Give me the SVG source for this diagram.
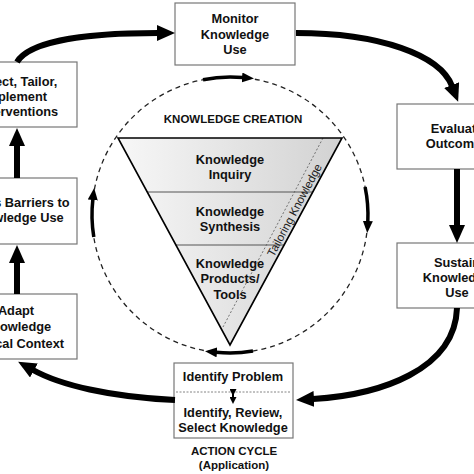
<svg xmlns="http://www.w3.org/2000/svg" width="474" height="474" viewBox="0 0 474 474">
<defs>
<style>
.box{fill:#fff;stroke:#777;stroke-width:1.2}
.t{font-family:"Liberation Sans",Arial,sans-serif;font-weight:bold;font-size:12.8px;fill:#111;text-anchor:middle}
.s{font-size:11.5px}
.big{fill:none;stroke:#000;stroke-width:6}
.cyc{fill:none;stroke:#000;stroke-width:3.5}
</style>
<marker id="ah" viewBox="0 0 18 16" refX="1" refY="8" markerWidth="18" markerHeight="16" markerUnits="userSpaceOnUse" orient="auto">
<path d="M0,0 L18,8 L0,16 z" fill="#000"/>
</marker>
<marker id="sh" viewBox="0 0 12 10" refX="1" refY="5" markerWidth="12" markerHeight="10" markerUnits="userSpaceOnUse" orient="auto">
<path d="M0,0 L12,5 L0,10 z" fill="#000"/>
</marker>
<marker id="tiny" viewBox="0 0 7 7" refX="1" refY="3.5" markerWidth="7" markerHeight="7" markerUnits="userSpaceOnUse" orient="auto">
<path d="M0,0 L7,3.5 L0,7 z" fill="#000"/>
</marker>
<linearGradient id="tg" x1="0" y1="0" x2="1" y2="0">
<stop offset="0" stop-color="#f7f7f7"/>
<stop offset="1" stop-color="#d2d2d2"/>
</linearGradient>
</defs>

<g id="creation">
<circle cx="230" cy="215" r="138" fill="none" stroke="#222" stroke-width="1.3" stroke-dasharray="5 4"/>
<path d="M118,138 L342,138 L230,345 Z" fill="url(#tg)" stroke="none"/>
<line x1="147.2" y1="192" x2="312.8" y2="192" stroke="#555" stroke-width="1"/>
<line x1="175.9" y1="245" x2="284.1" y2="245" stroke="#555" stroke-width="1"/>
<line x1="323" y1="138" x2="223" y2="327" stroke="#555" stroke-width="0.8" stroke-dasharray="2 2"/>
<path d="M118,138 L342,138 L230,345 Z" fill="none" stroke="#000" stroke-width="1.6" stroke-linejoin="miter"/>
<text class="t" x="233" y="123" style="font-size:11.5px">KNOWLEDGE CREATION</text>
<text class="t" x="230" y="164">Knowledge</text>
<text class="t" x="230" y="179">Inquiry</text>
<text class="t" x="230" y="216">Knowledge</text>
<text class="t" x="230" y="231">Synthesis</text>
<text class="t" x="230" y="268">Knowledge</text>
<text class="t" x="230" y="283">Products/</text>
<text class="t" x="230" y="299">Tools</text>
<text x="0" y="0" transform="translate(298,212) rotate(-62)" style="font-family:'Liberation Sans',Arial,sans-serif;font-size:11.5px;fill:#222;text-anchor:middle">Tailoring Knowledge</text>
</g>

<g id="monitor">
<rect class="box" x="175" y="3" width="120" height="62"/>
<text class="t" x="235" y="23">Monitor</text>
<text class="t" x="235" y="38.5">Knowledge</text>
<text class="t" x="235" y="54">Use</text>
</g>

<g id="evaluate">
<rect class="box" x="397" y="104" width="120" height="65"/>
<text class="t" x="457" y="133">Evaluate</text>
<text class="t" x="457" y="147.5">Outcomes</text>
</g>

<g id="sustain">
<rect class="box" x="397" y="243" width="120" height="65"/>
<text class="t" x="457" y="267">Sustain</text>
<text class="t" x="457" y="282">Knowledge</text>
<text class="t" x="457" y="296.5">Use</text>
</g>

<g id="identify">
<rect class="box" x="174" y="363" width="119" height="75"/>
<text class="t" x="233" y="381">Identify  Problem</text>
<line x1="176" y1="392" x2="291" y2="392" stroke="#666" stroke-width="0.8" stroke-dasharray="2 1.5"/>
<text class="t" x="233" y="417">Identify, Review,</text>
<text class="t" x="233" y="432">Select Knowledge</text>
<text class="t s" x="234" y="455">ACTION CYCLE</text>
<text class="t s" x="234" y="469">(Application)</text>
</g>

<g id="adapt">
<rect class="box" x="-43" y="294" width="120" height="65"/>
<text class="t" x="16" y="315">Adapt</text>
<text class="t" x="17" y="331">Knowledge</text>
<text class="t" x="14" y="348">to Local Context</text>
</g>

<g id="barriers">
<rect class="box" x="-43" y="178" width="120" height="66"/>
<text class="t" x="13" y="207">Assess Barriers to</text>
<text class="t" x="16" y="222">Knowledge Use</text>
</g>

<g id="select">
<rect class="box" x="-43" y="62" width="120" height="65"/>
<text class="t" x="16.5" y="85.5">Select, Tailor,</text>
<text class="t" x="15" y="100.5">Implement</text>
<text class="t" x="18" y="115.5">Interventions</text>
</g>

<g id="connectors">
<path class="big" d="M17,62 C30,40 90,33 158,33" marker-end="url(#ah)"/>
<path class="big" d="M296,33 C380,33 440,55 452,86" marker-end="url(#ah)"/>
<path class="big" d="M457,169 L457,226" marker-end="url(#ah)"/>
<path class="big" d="M457,308 C455,370 380,395 313,399" marker-end="url(#ah)"/>
<path class="big" d="M175,400 C110,397 60,385 33,370" marker-end="url(#ah)"/>
<path class="big" d="M17,294 L17,262" marker-end="url(#ah)"/>
<path class="big" d="M17,178 L17,145" marker-end="url(#ah)"/>
<path class="cyc" d="M203,79.7 A138,138 0 0 1 243,77.6" marker-end="url(#sh)"/>
<path class="cyc" d="M365.1,187 A138,138 0 0 1 367.8,222" marker-end="url(#sh)"/>
<path class="cyc" d="M253,351.1 A138,138 0 0 1 216,352.3" marker-end="url(#sh)"/>
<path class="cyc" d="M93.8,237 A138,138 0 0 1 92.9,199" marker-end="url(#sh)"/>
<path d="M233,390 L233,398" stroke="#000" stroke-width="2" marker-start="url(#tiny)" marker-end="url(#tiny)" fill="none"/>
</g>
</svg>
